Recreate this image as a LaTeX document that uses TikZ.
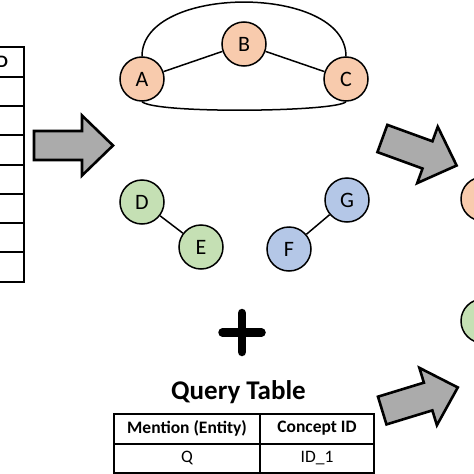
\documentclass[tikz,border=0pt]{standalone}
\usepackage{fontspec}
\setmainfont{Carlito}
\usetikzlibrary{calc}
\definecolor{orangefill}{HTML}{F8CBAD}
\definecolor{greenfill}{HTML}{C5E0B4}
\definecolor{bluefill}{HTML}{B4C7E7}
\definecolor{arrowgray}{HTML}{ABABAB}
\tikzset{
  gnode/.style={circle, draw=black, line width=1.5pt, minimum size=44pt, inner sep=0pt, font=\fontsize{22}{22}\selectfont},
  onode/.style={gnode, fill=orangefill},
  grnode/.style={gnode, fill=greenfill},
  blnode/.style={gnode, fill=bluefill},
  gedge/.style={line width=1.5pt, draw=black},
  tline/.style={line width=2pt, draw=black},
  bigarrow/.pic={
    \draw[line width=2.6pt, fill=arrowgray, line join=miter]
      (-39.5,-14.5) -- (8.5,-14.5) -- (8.5,-30) -- (39.5,0) -- (8.5,30) -- (8.5,14.5) -- (-39.5,14.5) -- cycle;
  },
  hdr/.style={font=\bfseries\fontsize{17.5}{17.5}\selectfont},
  cell/.style={font=\fontsize{17.5}{17.5}\selectfont}
}
\begin{document}
\begin{tikzpicture}[x=1pt, y=-1pt]
\useasboundingbox (0,0) rectangle (474,474);
\clip (0,0) rectangle (474,474);
\fill[white] (0,0) rectangle (474,474);

% left table (partly off canvas)
\draw[tline] (-5,47) -- (24,47) -- (24,282) -- (-5,282);
\foreach \yy in {76.5,106,135,164.5,193.5,222.5,252} {
  \draw[tline] (-5,\yy) -- (24,\yy);
}
\node[hdr, anchor=east, inner sep=0pt] (idtxt) at (8,62) {ID};

% left arrow
\pic at (73.5,145.5) {bigarrow};

% graph ABC
\node[onode] (A) at (142,79) {A};
\node[onode] (B) at (244,44) {B};
\node[onode] (C) at (346,79) {C};
\draw[gedge] (A) -- (B);
\draw[gedge] (B) -- (C);
\draw[gedge] (A.north) .. controls (142,-16) and (346,-16) .. (C.north);
\draw[gedge] (A.south) .. controls (156,114) and (336,112) .. (C.south);

% graph DE, FG
\node[grnode] (D) at (142,202) {D};
\node[grnode] (E) at (201,247) {E};
\node[blnode] (F) at (289,249) {F};
\node[blnode] (G) at (347,200) {G};
\draw[gedge] (D) -- (E);
\draw[gedge] (F) -- (G);

% right partial nodes
\node[onode] (R1) at (483,199) {};
\node[grnode] (R2) at (483,321) {};

% right arrows
\pic[rotate=-20] at (419.5,152) {bigarrow};
\pic[rotate=17] at (420,399) {bigarrow};

% plus sign
\coordinate (pc) at (242,332.5);
\draw[line width=8.5pt, line cap=round] ($(pc)+(-19.5,0)$) -- ($(pc)+(19.5,0)$);
\draw[line width=8.5pt, line cap=round] ($(pc)+(0,-19.5)$) -- ($(pc)+(0,19.5)$);

% query table
\node[font=\bfseries\fontsize{27}{27}\selectfont] (qt) at (238.5,392) {Query Table};
\draw[tline] (114,413.5) rectangle (374,472.5);
\draw[tline] (114,443.5) -- (374,443.5);
\draw[tline] (260,413.5) -- (260,472.5);
\node[hdr] (h1) at (187,428.5) {Mention (Entity)};
\node[hdr] (h2) at (317,428.5) {Concept ID};
\node[cell] (c1) at (187,458) {Q};
\node[cell] (c2) at (317,458) {ID\_1};
\end{tikzpicture}
\end{document}
